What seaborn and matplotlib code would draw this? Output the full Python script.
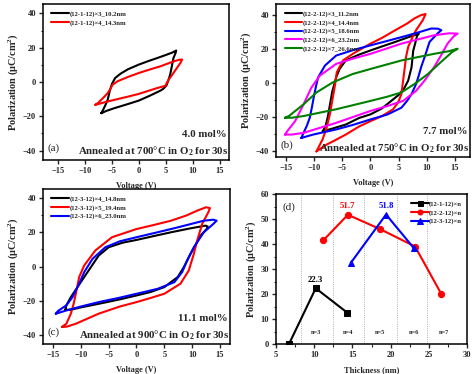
import numpy as np
import pandas as pd
import matplotlib
matplotlib.use("Agg")
import matplotlib.pyplot as plt
from matplotlib.ticker import MultipleLocator
import seaborn as sns

# ---- (a) 4.0 mol%, (12-1-12)xn ----
a3_v = [-7.0, -6.7, -6.3, -5.8, -5.4, -5.0, -4.4, -3.4, -2.0, 0.0, 2.0, 3.4, 5.0, 6.2, 6.9,
        6.8, 6.4, 6.1, 5.8, 5.5, 5.1, 4.5, 4.0, 2.0, 0.0, -2.0, -4.6, -6.0, -7.0]
a3_p = [-18.2, -16.5, -14.0, -10.4, -5.0, -1.0, 2.4, 4.9, 7.5, 10.2, 12.5, 14.0, 15.8, 17.2, 18.4,
        17.0, 14.0, 9.2, 4.5, 1.4, -2.0, -4.0, -5.0, -8.0, -10.8, -12.8, -15.3, -16.8, -18.2]
a4_v = [-8.1, -7.6, -7.0, -6.4, -5.8, -5.3, -4.9, -4.0, -2.0, 0.0, 2.0, 4.0, 6.4, 7.5, 8.0,
        7.7, 7.0, 6.4, 5.9, 5.5, 4.9, 3.4, 0.0, -2.0, -4.0, -6.0, -7.0, -8.1]
a4_p = [-13.3, -12.2, -10.4, -8.5, -6.5, -4.0, -1.6, 0.4, 3.0, 5.3, 7.3, 9.2, 12.0, 13.0, 13.1,
        11.2, 8.0, 5.3, 3.0, 1.4, -2.2, -3.5, -6.9, -8.5, -10.0, -11.5, -12.4, -13.3]

# ---- (b) 7.7 mol%, (12-2-12)xn ----
b3_v = [-8.5, -8.0, -7.6, -7.3, -6.8, -6.1, -5.5, -4.4, -2.0, 0.0, 2.0, 4.4, 7.0, 8.6,
        8.3, 8.0, 7.6, 7.3, 6.7, 6.0, 5.0, 2.0, 0.0, -2.0, -4.4, -7.0, -8.5]
b3_p = [-28.3, -25.5, -20.0, -14.5, -5.0, 3.4, 8.3, 13.3, 16.8, 19.2, 21.5, 24.2, 27.3, 29.0,
        28.0, 24.0, 19.0, 9.3, 1.4, -3.0, -7.0, -15.0, -18.4, -20.5, -24.4, -27.0, -28.3]
b4_v = [-9.6, -9.3, -8.5, -7.8, -7.2, -6.7, -6.3, -6.0, -4.9, -3.0, 0.0, 2.0, 4.4, 6.5, 7.8, 9.0, 9.8,
        9.3, 8.1, 7.4, 6.7, 6.3, 6.1, 5.8, 5.5, 4.9, 4.0, 2.0, 0.0, -2.0, -4.4, -6.5, -7.8, -9.6]
b4_p = [-40.2, -38.2, -33.0, -26.3, -18.0, -8.5, -1.0, 6.3, 13.3, 17.5, 23.2, 26.5, 31.1, 35.0, 38.0, 40.0, 40.6,
        37.0, 31.1, 26.5, 21.2, 15.0, 9.3, 1.4, -6.5, -11.5, -15.5, -19.5, -22.4, -25.5, -30.3, -34.0, -36.2, -40.2]
b5_v = [-12.3, -11.9, -11.3, -10.8, -10.4, -10.1, -9.7, -9.3, -8.1, -6.1, -3.0, 0.0, 3.0, 6.7, 9.0, 10.8, 12.0, 12.6,
        11.9, 10.5, 9.8, 9.0, 8.5, 8.1, 7.3, 6.5, 5.5, 3.0, 0.0, -3.0, -6.1, -10.2, -12.3]
b5_p = [-32.3, -29.3, -25.0, -20.4, -14.0, -8.5, -2.0, 3.4, 10.3, 16.2, 19.5, 22.2, 24.8, 28.1, 30.3, 32.1, 32.0, 31.1,
        29.1, 24.2, 17.0, 9.3, 3.5, -0.6, -6.5, -10.5, -14.5, -18.5, -21.4, -24.5, -27.3, -30.3, -32.3]
b6_v = [-15.2, -14.8, -13.4, -11.9, -10.5, -9.0, -6.1, -3.0, 0.0, 5.5, 11.3, 14.0, 15.5,
        14.8, 13.7, 12.5, 11.3, 9.6, 8.1, 5.8, 3.0, 0.0, -6.1, -11.9, -14.0, -15.2]
b6_p = [-30.3, -28.3, -22.4, -12.5, -2.6, 4.4, 11.3, 14.5, 17.2, 23.2, 28.1, 29.3, 29.1,
        27.5, 23.2, 16.0, 9.3, 1.4, -4.6, -10.5, -13.5, -16.4, -23.4, -29.3, -30.3, -30.3]
b7_v = [-15.2, -14.5, -11.9, -9.6, -6.7, -3.2, 0.0, 5.5, 11.3, 14.0, 15.5,
        14.5, 12.5, 10.2, 7.8, 5.5, 3.0, 0.0, -6.1, -11.9, -14.0, -15.2]
b7_p = [-20.4, -19.4, -12.5, -5.5, 0.4, 5.3, 8.3, 13.3, 17.2, 18.8, 20.2,
        18.2, 12.3, 5.3, -0.6, -5.5, -8.0, -10.5, -15.4, -19.4, -20.4, -20.4]

# ---- (c) 11.1 mol%, (12-3-12)xn ----
c4_v = [-12.8, -12.6, -11.8, -10.6, -9.4, -8.2, -6.8, -5.0, -2.5, 0.0, 3.0, 6.2, 9.5, 12.4, 12.8,
        12.6, 11.5, 10.5, 9.7, 8.5, 7.4, 5.0, 2.5, 0.0, -3.0, -6.8, -10.0, -11.8, -12.8]
c4_p = [-25.4, -22.8, -18.0, -12.1, -6.2, -0.4, 6.4, 11.3, 14.0, 15.6, 17.8, 20.1, 22.3, 24.0, 23.5,
        22.0, 18.1, 12.0, 7.4, -0.4, -6.2, -12.1, -15.0, -17.0, -19.3, -21.9, -24.0, -25.4, -25.4]
c5_v = [-13.4, -12.6, -11.8, -11.3, -10.9, -10.3, -9.4, -7.4, -4.4, 0.0, 3.0, 6.2, 9.0, 10.9, 12.5, 13.2,
        12.9, 11.8, 10.9, 10.3, 9.4, 7.9, 5.0, 2.5, 0.0, -3.0, -6.8, -10.9, -12.5, -13.4]
c5_p = [-35.5, -33.6, -27.7, -22.0, -16.0, -6.2, 0.6, 9.4, 17.2, 22.0, 24.3, 26.9, 30.0, 32.8, 34.8, 34.3,
        31.8, 25.0, 15.2, 7.4, -2.3, -10.1, -16.0, -18.5, -20.9, -23.5, -27.7, -33.6, -35.3, -35.5]
c6_v = [-14.5, -14.1, -12.6, -11.5, -10.3, -9.4, -7.9, -5.6, -3.0, 0.0, 3.0, 6.2, 9.0, 12.1, 13.8, 14.4,
        13.8, 12.1, 10.3, 9.1, 8.2, 6.8, 3.8, 0.0, -3.0, -6.8, -10.0, -12.6, -14.5]
c6_p = [-27.7, -26.1, -22.8, -18.0, -10.1, -3.3, 4.5, 11.3, 14.8, 17.2, 19.5, 22.0, 24.3, 26.9, 27.5, 26.9,
        25.0, 20.1, 11.3, 3.5, -3.3, -9.2, -13.1, -16.0, -18.3, -20.9, -23.5, -25.8, -27.7]

# ---- (d) polarization vs thickness ----
d1_t = [6.7, 10.2, 14.3]
d1_p = [0.0, 22.3, 12.6]
d2_t = [11.2, 14.4, 18.6, 23.2, 26.6]
d2_p = [41.5, 51.7, 46.0, 39.0, 20.2]
d3_t = [14.8, 19.4, 23.0]
d3_p = [32.5, 51.8, 38.5]
n_lines = [8.3, 12.45, 16.5, 20.8, 24.8]
n_labels = ["n=3", "n=4", "n=5", "n=6", "n=7"]
n_label_x = [10.2, 14.4, 18.6, 23.0, 27.0]

sns.set_style("ticks")
plt.rcParams["font.family"] = ["Liberation Serif", "DejaVu Serif"]
plt.rcParams["font.weight"] = "bold"
plt.rcParams["axes.labelweight"] = "bold"
plt.rcParams["mathtext.fontset"] = "custom"
plt.rcParams["mathtext.rm"] = "Liberation Serif:bold"
plt.rcParams["mathtext.bf"] = "Liberation Serif:bold"
plt.rcParams["mathtext.it"] = "Liberation Serif:bold:italic"

fig = plt.figure(figsize=(4.74, 3.74), dpi=100)
ax_a = fig.add_axes([0.0907, 0.5722, 0.3924, 0.417])
ax_b = fig.add_axes([0.5823, 0.5802, 0.4093, 0.409])
ax_c = fig.add_axes([0.0907, 0.0802, 0.3945, 0.4144])
ax_d = fig.add_axes([0.5823, 0.0802, 0.4030, 0.4010])

green = "#008000"
ylab = "Polarization (\u03bcC/cm$^\\mathrm{2}$)"
lab_x = 6.0
lab_y = 7.4


def loop(ax, v, p, color, label):
    df = pd.DataFrame({"V": v, "P": p})
    sns.lineplot(data=df, x="V", y="P", sort=False, estimator=None, color=color,
                 lw=1.5, label=label, ax=ax)


loop(ax_a, a3_v, a3_p, "black", "(12-1-12)\u00d73_10.2nm")
loop(ax_a, a4_v, a4_p, "red", "(12-1-12)\u00d74_14.3nm")

loop(ax_b, b3_v, b3_p, "black", "(12-2-12)\u00d73_11.2nm")
loop(ax_b, b4_v, b4_p, "red", "(12-2-12)\u00d74_14.4nm")
loop(ax_b, b5_v, b5_p, "blue", "(12-2-12)\u00d75_18.6nm")
loop(ax_b, b6_v, b6_p, "magenta", "(12-2-12)\u00d76_23.2nm")
loop(ax_b, b7_v, b7_p, green, "(12-2-12)\u00d77_26.6nm")

loop(ax_c, c4_v, c4_p, "black", "(12-3-12)\u00d74_14.8nm")
loop(ax_c, c5_v, c5_p, "red", "(12-3-12)\u00d75_19.4nm")
loop(ax_c, c6_v, c6_p, "blue", "(12-3-12)\u00d76_23.0nm")

panels = [
    (ax_a, (-17.8, 16.7), (-45.5, 45.5), "(a)", "4.0 mol%", "700"),
    (ax_b, (-16.8, 17.7), (-43.5, 46.5), "(b)", "7.7 mol%", "750"),
    (ax_c, (-16.8, 16.8), (-45.5, 45.5), "(c)", "11.1 mol%", "900"),
]
for ax, xl, yl, tag, mol, temp in panels:
    ax.set_xlim(*xl)
    ax.set_ylim(*yl)
    ax.xaxis.set_major_locator(MultipleLocator(5))
    ax.yaxis.set_major_locator(MultipleLocator(20))
    ax.yaxis.set_minor_locator(MultipleLocator(10))
    ax.set_xlabel("Voltage (V)", fontsize=lab_x, labelpad=5)
    ax.set_ylabel(ylab, fontsize=lab_y, labelpad=2)
    ax.text(0.985, 0.165, mol, transform=ax.transAxes, ha="right", va="center", fontsize=7.8)
    ax.text(0.997, 0.055, f"Annealed at {temp}\u00b0C in O$_\\mathrm{{2}}$ for 30s",
            transform=ax.transAxes, ha="right", va="center", fontsize=7.8)
    ax.text(0.025, 0.075, tag, transform=ax.transAxes, ha="left", va="center",
            fontsize=8, fontweight="normal")
    ax.legend(loc="upper left", bbox_to_anchor=(0.02, 0.985), frameon=False, fontsize=4.8,
              handlelength=2.6, handletextpad=0.2, labelspacing=0.4, borderpad=0.2)

# panel (d)
for x in n_lines:
    ax_d.axvline(x, color="#999999", ls=":", lw=0.6, zorder=0)
for x, s in zip(n_label_x, n_labels):
    ax_d.text(x, 4.7, s, ha="center", va="center", fontsize=4.6)

df1 = pd.DataFrame({"t": d1_t, "p": d1_p})
df2 = pd.DataFrame({"t": d2_t, "p": d2_p})
df3 = pd.DataFrame({"t": d3_t, "p": d3_p})
sns.lineplot(data=df1, x="t", y="p", color="black", marker="s", markersize=4.5, mec="black",
             lw=1.5, label="(12-1-12)\u00d7n", ax=ax_d)
sns.lineplot(data=df2, x="t", y="p", color="red", marker="o", markersize=4.5, mec="red",
             lw=1.5, label="(12-2-12)\u00d7n", ax=ax_d)
sns.lineplot(data=df3, x="t", y="p", color="blue", marker="^", markersize=5, mec="blue",
             lw=1.5, label="(12-3-12)\u00d7n", ax=ax_d)
ax_d.text(d1_t[1], d1_p[1] + 3.5, f"{d1_p[1]:.1f}", ha="center", va="center", fontsize=6.3, color="black")
ax_d.text(d2_t[1], d2_p[1] + 3.5, f"{d2_p[1]:.1f}", ha="center", va="center", fontsize=6.3, color="red")
ax_d.text(d3_t[1], d3_p[1] + 3.5, f"{d3_p[1]:.1f}", ha="center", va="center", fontsize=6.3, color="blue")
ax_d.text(5.8, 54.8, "(d)", ha="left", va="center", fontsize=8, fontweight="normal")
ax_d.set_xlim(5, 30)
ax_d.set_ylim(0, 60)
ax_d.xaxis.set_major_locator(MultipleLocator(5))
ax_d.xaxis.set_minor_locator(MultipleLocator(2.5))
ax_d.yaxis.set_major_locator(MultipleLocator(10))
ax_d.yaxis.set_minor_locator(MultipleLocator(5))
ax_d.set_xlabel("Thickness (nm)", fontsize=lab_x, labelpad=5)
ax_d.set_ylabel(ylab, fontsize=lab_y, labelpad=2)
ax_d.legend(loc="upper right", bbox_to_anchor=(1.0, 0.985), frameon=False, fontsize=4.8,
            handlelength=2.6, handletextpad=0.1, labelspacing=0.4, borderpad=0.2, markerscale=0.8)

for ax in [ax_a, ax_b, ax_c, ax_d]:
    for sp in ax.spines.values():
        sp.set_linewidth(1.1)
        sp.set_color("black")
    ax.tick_params(which="major", direction="out", length=3, width=1, labelsize=6.0, pad=2)
    ax.tick_params(which="minor", direction="out", length=1.8, width=0.8)
    for lbl in ax.get_xticklabels() + ax.get_yticklabels():
        lbl.set_fontweight("bold")

fig.savefig("out.png", dpi=100)
